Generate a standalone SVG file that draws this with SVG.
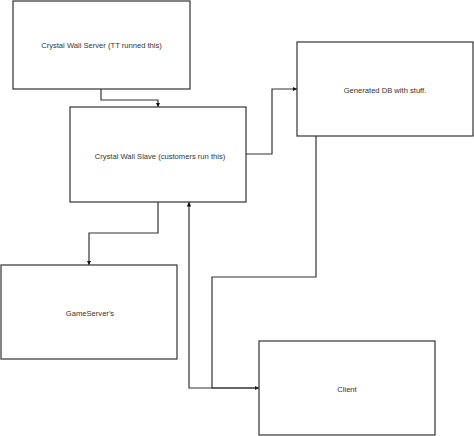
<svg xmlns="http://www.w3.org/2000/svg" width="474" height="436" viewBox="0 0 474 436">
<style>
.box{fill:#fff;stroke:#333;stroke-width:1.2}
.lbl{font-family:"Liberation Sans",Arial,sans-serif;font-size:7.6px;fill:#333;text-anchor:middle;dominant-baseline:central}
.edge{fill:none;stroke:#333;stroke-width:1.2}
</style>
<defs>
<marker id="arr" viewBox="0 0 10 10" refX="10" refY="5" markerWidth="4.5" markerHeight="4.5" orient="auto" markerUnits="userSpaceOnUse"><path d="M0,0 L10,5 L0,10 Z" fill="#111"/></marker>
</defs>
<rect width="474" height="436" fill="#fff"/>
<g id="connectors">
<path class="edge" d="M101,89 V100 H158 V107" marker-end="url(#arr)"/>
<path class="edge" d="M246,154 H272 V89 H297" marker-end="url(#arr)"/>
<path class="edge" d="M158,202 V233 H89 V265" marker-end="url(#arr)"/>
<path class="edge" d="M316,136 V277 H212 V388 H259" marker-end="url(#arr)"/>
<path class="edge" d="M259,388 H189 V202" marker-end="url(#arr)"/>
</g>
<g id="server"><rect class="box" x="13" y="1" width="177" height="88"/><text class="lbl" x="101.5" y="45">Crystal Wall Server (TT runned this)</text></g>
<g id="slave"><rect class="box" x="70" y="107" width="176" height="95"/><text class="lbl" x="160" y="156">Crystal Wall Slave (customers run this)</text></g>
<g id="db"><rect class="box" x="297" y="42" width="176" height="94"/><text class="lbl" x="385" y="90">Generated DB with stuff.</text></g>
<g id="gameservers"><rect class="box" x="1" y="265" width="176" height="94"/><text class="lbl" x="90" y="313">GameServer's</text></g>
<g id="client"><rect class="box" x="259" y="341" width="176" height="94"/><text class="lbl" x="347" y="389">Client</text></g>
</svg>
